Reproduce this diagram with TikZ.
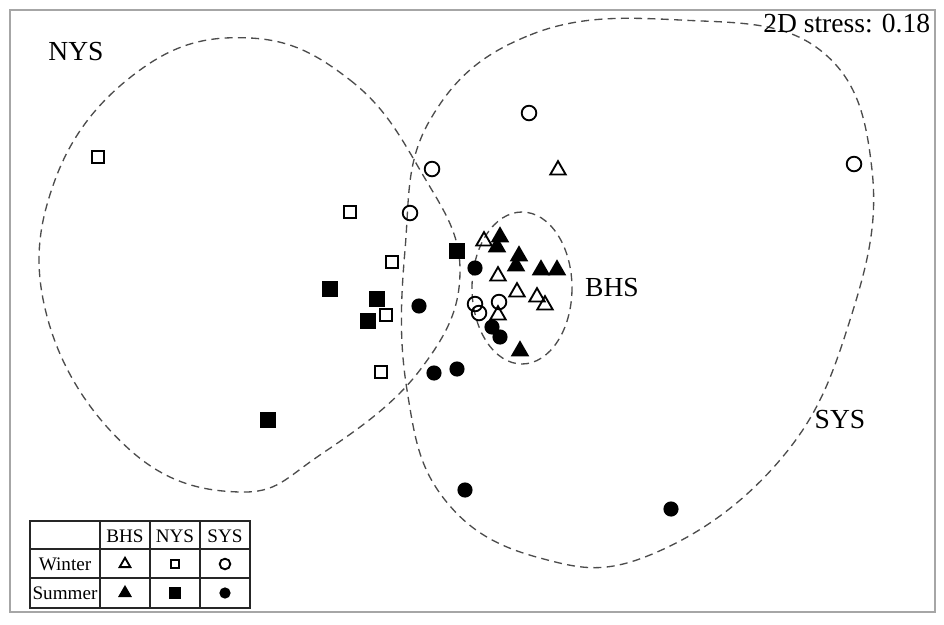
\documentclass[tikz,border=0pt]{standalone}
\usepackage{fontspec}
\setmainfont{Liberation Serif}
\usetikzlibrary{shapes.geometric}
\begin{document}
\begin{tikzpicture}[x=0.02646cm,y=-0.02646cm,
  hull/.style={dash pattern=on 6pt off 4pt,gray!60!black,line width=1pt},
  wtri/.style={draw,line width=1.4pt,isosceles triangle,isosceles triangle apex angle=60,shape border rotate=90,inner sep=0pt,minimum height=10pt},
  ftri/.style={wtri,fill=black},
  wsq/.style={draw,line width=1.4pt,rectangle,inner sep=0pt,minimum size=9pt},
  fsq/.style={wsq,fill=black,minimum size=11pt},
  wcir/.style={draw,line width=1.4pt,circle,inner sep=0pt,minimum size=11pt},
  fcir/.style={wcir,fill=black,minimum size=10pt}]
  \useasboundingbox (0,0) rectangle (944,624);
  \draw[gray!70,line width=1.2pt] (10,10) rectangle (935,612);
  % convex hulls of the groups
  \draw[hull] plot[smooth cycle,tension=0.7] coordinates {(250,38) (350,80) (420,170) (460,270) (420,370) (320,455) (240,492) (130,450) (48,320) (55,180) (140,70)};
  \draw[hull] plot[smooth cycle,tension=0.7] coordinates {(430,120) (530,35) (680,20) (820,50) (872,170) (850,320) (780,460) (650,555) (540,558) (445,500) (407,390) (405,250)};
  \draw[hull] (522,288) ellipse (50 and 76);
  % labels
  \node (nys) at (76,52) {\huge NYS};
  \node (sys) at (840,420) {\huge SYS};
  \node (bhs) at (612,288) {\huge BHS};
  \node[anchor=north east,inner sep=2pt] (stress) at (933,11) {\huge 2D stress: 0.18};
  % samples
  \foreach \x/\y in {98/157,350/212,392/262,386/315,381/372} \node[wsq] at (\x,\y) {};
  \foreach \x/\y in {330/289,377/299,368/321,268/420,457/251} \node[fsq] at (\x,\y) {};
  \foreach \x/\y in {529/113,432/169,410/213,854/164,475/304,479/313,499/302} \node[wcir] at (\x,\y) {};
  \foreach \x/\y in {475/268,419/306,492/327,500/337,434/373,457/369,465/490,671/509} \node[fcir] at (\x,\y) {};
  \foreach \x/\y in {558/170,484/241,498/276,517/292,537/297,545/305,498/315} \node[wtri] at (\x,\y) {};
  \foreach \x/\y in {500/237,497/247,519/256,516/266,541/270,557/270,520/351} \node[ftri] at (\x,\y) {};
  % legend table
  \draw[line width=1.2pt,gray!30!black] (30,521) rectangle (250,608);
  \foreach \y in {549,578} \draw[line width=1.2pt,gray!30!black] (30,\y) -- (250,\y);
  \foreach \x in {100,150,200} \draw[line width=1.2pt,gray!30!black] (\x,521) -- (\x,608);
  \node (hb) at (125,536) {\Large BHS};
  \node (hn) at (175,536) {\Large NYS};
  \node (hs) at (225,536) {\Large SYS};
  \node (rw) at (65,564) {\Large Winter};
  \node (rs) at (65,593) {\Large Summer};
  \node[wtri,minimum height=7pt] at (125,564) {};
  \node[wsq,minimum size=6pt] at (175,564) {};
  \node[wcir,minimum size=8pt] at (225,564) {};
  \node[ftri,minimum height=7pt] at (125,593) {};
  \node[fsq,minimum size=7pt] at (175,593) {};
  \node[fcir,minimum size=7pt] at (225,593) {};
\end{tikzpicture}
\end{document}
